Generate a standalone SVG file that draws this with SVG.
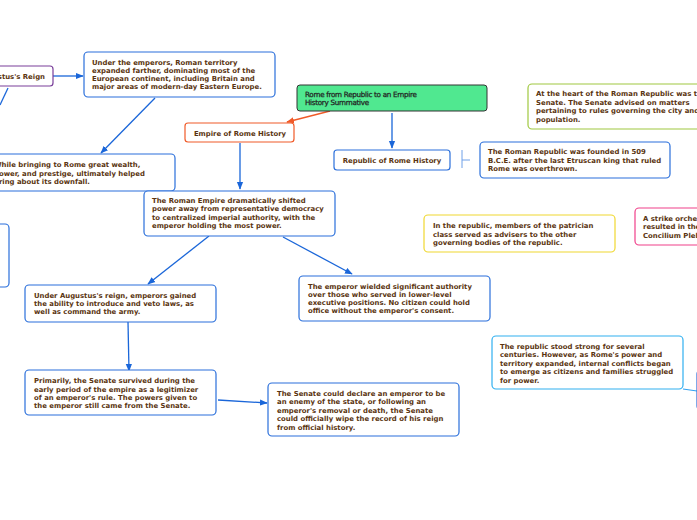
<svg xmlns="http://www.w3.org/2000/svg" width="697" height="520" viewBox="0 0 697 520">
<style>
.b{fill:#fff;stroke:#2a6fdb;stroke-width:1.2}
.t{font-family:"DejaVu Sans",sans-serif;font-weight:bold;font-size:6.9px;fill:#5a3410}
.c{stroke:#1a66d9;stroke-width:1.3;fill:none}
</style>
<defs><marker id="a" viewBox="0 0 10 10" refX="9" refY="5" markerWidth="6" markerHeight="6" orient="auto"><path d="M0,1L10,5L0,9z" fill="#1a66d9"/></marker>
<marker id="o" viewBox="0 0 10 10" refX="9" refY="5" markerWidth="6" markerHeight="6" orient="auto"><path d="M0,1L10,5L0,9z" fill="#f05a28"/></marker></defs>
<rect width="697" height="520" fill="#fff"/>
<g id="connectors">
<path class="c" d="M53,76H83" marker-end="url(#a)"/>
<path class="c" d="M8,88L0,105"/>
<path class="c" d="M155,98L101,153" marker-end="url(#a)"/>
<path d="M330,111L287,122" stroke="#f05a28" stroke-width="1.3" marker-end="url(#o)"/>
<path class="c" d="M240,143V189" marker-end="url(#a)"/>
<path class="c" d="M209,236L148,284" marker-end="url(#a)"/>
<path class="c" d="M283,237L352,274" marker-end="url(#a)"/>
<path class="c" d="M128,322L129,371" marker-end="url(#a)"/>
<path class="c" d="M218,400L267,403" marker-end="url(#a)"/>
<path class="c" d="M392,113V148" marker-end="url(#a)"/>
<path d="M462,150V168M462,160H470" stroke="#6fa0e8" stroke-width="1"/>
<path d="M683,389L697,391" stroke="#30a0f0" stroke-width="1.2"/>
</g>
<g id="n-augustus"><rect x="-10" y="66" width="63" height="20" rx="3" fill="#fff" stroke="#7a3f9a" stroke-width="1.2"/><text class="t" x="45" y="78.5" text-anchor="end">Augustus's Reign</text></g>
<g id="n-territory"><rect class="b" x="84" y="52" width="191" height="45" rx="4"/><text class="t" x="92"><tspan x="92" y="65">Under the emperors, Roman territory</tspan><tspan x="92" y="73">expanded farther, dominating most of the</tspan><tspan x="92" y="81">European continent, including Britain and</tspan><tspan x="92" y="89">major areas of modern-day Eastern Europe.</tspan></text></g>
<g id="n-downfall"><rect class="b" x="-10" y="154" width="185" height="37" rx="4"/><text class="t"><tspan x="-6" y="167">While bringing to Rome great wealth,</tspan><tspan x="-6" y="176">power, and prestige, ultimately helped</tspan><tspan x="-6" y="184">bring about its downfall.</tspan></text></g>
<g id="n-left"><rect class="b" x="-10" y="224" width="19" height="63" rx="4"/></g>
<g id="n-title"><rect x="297" y="85" width="190" height="26" rx="3" fill="#50e890" stroke="#333" stroke-width="1"/><text font-family="DejaVu Sans,sans-serif" font-size="7.2px" fill="#222" stroke="#222" stroke-width="0.25" letter-spacing="-0.3"><tspan x="305" y="97">Rome from Republic to an Empire</tspan><tspan x="305" y="105">History Summative</tspan></text></g>
<g id="n-empire"><rect x="185" y="123" width="109" height="19" rx="3" fill="#fff" stroke="#f05a28" stroke-width="1.2"/><text class="t" x="240" y="135.5" text-anchor="middle">Empire of Rome History</text></g>
<g id="n-shift"><rect class="b" x="144" y="191" width="191" height="45" rx="4"/><text class="t"><tspan x="152" y="203">The Roman Empire dramatically shifted</tspan><tspan x="152" y="211">power away from representative democracy</tspan><tspan x="152" y="220">to centralized imperial authority, with the</tspan><tspan x="152" y="228">emperor holding the most power.</tspan></text></g>
<g id="n-augreign"><rect class="b" x="25" y="285" width="191" height="37" rx="4"/><text class="t"><tspan x="34" y="298">Under Augustus's reign, emperors gained</tspan><tspan x="34" y="306">the ability to introduce and veto laws, as</tspan><tspan x="34" y="314">well as command the army.</tspan></text></g>
<g id="n-primarily"><rect class="b" x="25" y="370" width="191" height="45" rx="4"/><text class="t"><tspan x="34" y="383">Primarily, the Senate survived during the</tspan><tspan x="34" y="392">early period of the empire as a legitimizer</tspan><tspan x="34" y="400">of an emperor's rule. The powers given to</tspan><tspan x="34" y="408">the emperor still came from the Senate.</tspan></text></g>
<g id="n-declare"><rect class="b" x="268" y="383" width="191" height="53" rx="4"/><text class="t"><tspan x="277" y="396">The Senate could declare an emperor to be</tspan><tspan x="277" y="404">an enemy of the state, or following an</tspan><tspan x="277" y="413">emperor's removal or death, the Senate</tspan><tspan x="277" y="421">could officially wipe the record of his reign</tspan><tspan x="277" y="430">from official history.</tspan></text></g>
<g id="n-wielded"><rect class="b" x="299" y="276" width="191" height="45" rx="4"/><text class="t"><tspan x="308" y="289">The emperor wielded significant authority</tspan><tspan x="308" y="297">over those who served in lower-level</tspan><tspan x="308" y="305">executive positions. No citizen could hold</tspan><tspan x="308" y="313">office without the emperor's consent.</tspan></text></g>
<g id="n-republic"><rect class="b" x="334" y="150" width="116" height="20" rx="3"/><text class="t" x="392" y="162.5" text-anchor="middle">Republic of Rome History</text></g>
<g id="n-founded"><rect class="b" x="480" y="142" width="190" height="36" rx="4"/><text class="t"><tspan x="488" y="154">The Roman Republic was founded in 509</tspan><tspan x="488" y="163">B.C.E. after the last Etruscan king that ruled</tspan><tspan x="488" y="171">Rome was overthrown.</tspan></text></g>
<g id="n-heart"><rect x="528" y="84" width="180" height="45" rx="4" fill="#fff" stroke="#a0c840" stroke-width="1.2"/><text class="t"><tspan x="536" y="96">At the heart of the Roman Republic was the</tspan><tspan x="536" y="105">Senate. The Senate advised on matters</tspan><tspan x="536" y="113">pertaining to rules governing the city and</tspan><tspan x="536" y="122">population.</tspan></text></g>
<g id="n-patrician"><rect x="424" y="215" width="191" height="37" rx="4" fill="#fff" stroke="#f0d830" stroke-width="1.2"/><text class="t"><tspan x="433" y="228">In the republic, members of the patrician</tspan><tspan x="433" y="237">class served as advisers to the other</tspan><tspan x="433" y="245">governing bodies of the republic.</tspan></text></g>
<g id="n-strike"><rect x="635" y="208" width="75" height="37" rx="4" fill="#fff" stroke="#f0408a" stroke-width="1.2"/><text class="t"><tspan x="643" y="221">A strike orche</tspan><tspan x="643" y="229">resulted in the</tspan><tspan x="643" y="238">Concilium Pleb</tspan></text></g>
<g id="n-stood"><rect x="492" y="336" width="191" height="53" rx="4" fill="#fff" stroke="#30b0f0" stroke-width="1.2"/><text class="t"><tspan x="500" y="349">The republic stood strong for several</tspan><tspan x="500" y="357">centuries. However, as Rome's power and</tspan><tspan x="500" y="366">territory expanded, internal conflicts began</tspan><tspan x="500" y="374">to emerge as citizens and families struggled</tspan><tspan x="500" y="383">for power.</tspan></text></g>
<g id="n-right"><rect class="b" x="697" y="370" width="20" height="40" rx="4"/></g>
</svg>
